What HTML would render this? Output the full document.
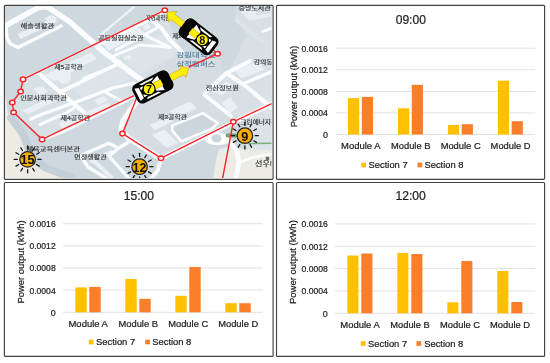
<!DOCTYPE html>
<html lang="ko"><head><meta charset="utf-8"><title>Power output by section</title>
<style>html,body{margin:0;padding:0;background:#fff}svg{display:block}</style></head>
<body>
<svg width="550" height="363" viewBox="0 0 550 363" font-family="Liberation Sans, Arial, sans-serif">
<rect width="550" height="363" fill="#fff"/>
<rect x="4.4" y="5.3" width="268.70000000000005" height="174.0" fill="#fff"/>
<clipPath id="mapclip"><rect x="5.0" y="5.8" width="266.5" height="172.1"/></clipPath>
<g clip-path="url(#mapclip)">
<rect x="4.4" y="5.3" width="268.70000000000005" height="174.0" fill="#CED9DF"/>
<polygon points="237.0,5.0 235.0,20.5 242.0,27.0 247.0,36.0 243.0,41.0 240.5,50.0 236.0,58.0 226.0,74.0 205.0,94.0 232.0,118.0 274.0,125.0 274.0,5.0" fill="#D8E0E5" />
<polygon points="4.0,92.0 6.5,104.0 9.0,120.0 20.6,135.0 25.5,148.0 30.5,161.5 45.4,171.3 70.0,180.0 4.0,180.0" fill="#EEEBE4" />
<polyline points="11.0,118.0 23.0,134.0 28.5,148.0 33.5,159.5 47.0,168.5 72.0,177.5" fill="none" stroke="#C3D0D8" stroke-width="7.67" stroke-linejoin="round" stroke-linecap="round" opacity="1"/>
<polygon points="219.0,149.0 232.0,146.0 244.0,149.0 275.0,149.5 275.0,180.0 213.0,180.0 216.0,160.0" fill="#EDEBE5" />
<polygon points="247.0,124.0 275.0,124.0 275.0,149.5 246.0,149.0" fill="#DCE3E7" />
<polygon points="23.0,79.4 164.8,10.2 172.0,30.0 184.0,52.0 141.0,79.0 136.0,95.5 42.0,139.4 13.6,112.2 12.3,102.5 20.6,91.5" fill="#D7E0E5" />
<polygon points="141.0,79.0 184.0,52.0 217.0,54.0 226.0,74.0 205.0,94.0 232.0,118.0 233.0,122.0 161.0,158.5 128.0,138.0 121.0,130.0 124.0,120.0 136.0,96.0" fill="#D5DDE3" />
<polygon points="17.5,34.0 54.0,17.2 57.0,21.8 20.5,39.0" fill="#E9EFF3" />
<polygon points="44.0,18.5 52.0,14.8 57.5,18.8 50.0,22.5" fill="#E9EFF3" />
<polygon points="43.2,75.5 71.3,62.3 79.6,68.1 54.8,81.3" fill="#E9EFF3" />
<polygon points="70.5,61.5 91.2,52.4 97.0,59.0 78.0,68.0" fill="#E9EFF3" />
<circle cx="64.5" cy="77.5" r="6.6" fill="#E9EFF3"/>
<polygon points="71.3,88.0 110.0,70.6 120.0,66.3 132.0,78.0 101.0,93.0 84.5,100.0" fill="#DCE4E9" />
<polygon points="21.8,110.4 51.1,97.6 54.9,101.4 28.2,114.2" fill="#E9EFF3" />
<polygon points="33.3,88.7 42.2,86.2 47.9,91.9 39.0,95.0" fill="#E9EFF3" />
<polygon points="59.0,123.0 108.6,102.6 111.5,107.0 62.0,128.0" fill="#E9EFF3" />
<polygon points="94.0,100.0 104.0,95.5 108.0,100.5 98.0,105.0" fill="#E9EFF3" />
<polygon points="102.4,43.7 138.2,26.9 144.7,32.7 108.5,50.5" fill="#E9EFF3" />
<polygon points="142.5,25.4 148.4,23.7 151.0,28.6 145.0,30.5" fill="#E9EFF3" />
<polygon points="119.0,53.5 163.0,34.0 178.0,53.0 140.0,74.0" fill="#DCE4E9" />
<polygon points="123.5,57.5 129.5,54.8 131.5,58.0 125.5,60.8" fill="#E9EFF3" />
<polygon points="169.8,110.7 189.7,101.6 197.1,108.2 177.3,118.2" fill="#E9EFF3" />
<polygon points="150.0,124.8 169.8,116.5 173.1,121.5 154.9,130.6" fill="#E9EFF3" />
<polygon points="151.6,134.7 164.8,129.8 178.1,143.0 166.5,148.0" fill="#E9EFF3" />
<polygon points="234.7,70.0 257.8,61.7 264.5,70.0 241.3,78.2" fill="#E9EFF3" />
<polygon points="213.0,91.5 226.4,81.5 234.7,86.5 221.4,95.6" fill="#E9EFF3" />
<polygon points="221.4,103.0 229.7,97.3 238.0,108.0 229.7,113.0" fill="#E9EFF3" />
<polygon points="239.4,10.4 254.6,7.8 256.0,15.5 271.0,13.0 271.0,16.7 249.5,20.5" fill="#E6ECEF" />
<polygon points="258.0,100.0 274.0,92.0 274.0,112.0 266.0,116.0" fill="#DCE4E9" />
<polygon points="89.0,159.5 112.0,149.5 114.0,153.0 91.0,163.0" fill="#E9EFF3" />
<polygon points="92.0,162.0 96.0,160.0 114.0,177.0 110.0,179.0" fill="#E9EFF3" />
<polygon points="172.3,125.6 202.9,113.2 217.8,123.1 212.8,128.1 181.4,141.4 172.3,130.6" fill="#CBD6DC" stroke="#FBFCFD" stroke-width="2.6" stroke-linejoin="round"/>
<polyline points="4.0,26.5 36.0,8.8 41.0,6.9 48.0,7.2 69.9,22.0 104.6,52.6 134.4,75.0 141.0,79.5" fill="none" stroke="#FBFCFD" stroke-width="5.43" stroke-linejoin="round" stroke-linecap="round" opacity="1"/>
<polyline points="5.7,25.5 7.0,38.0 10.0,43.5 18.0,47.5 61.0,26.0" fill="none" stroke="#FBFCFD" stroke-width="3.54" stroke-linejoin="round" stroke-linecap="round" opacity="1"/>
<polyline points="133.8,7.2 98.8,36.4" fill="none" stroke="#EEF2F5" stroke-width="2.36" stroke-linejoin="round" stroke-linecap="round" opacity="1"/>
<polyline points="84.0,78.2 117.1,65.0" fill="none" stroke="#FBFCFD" stroke-width="3.07" stroke-linejoin="round" stroke-linecap="round" opacity="1"/>
<polyline points="63.4,91.0 113.0,66.3 120.0,62.0" fill="none" stroke="#FBFCFD" stroke-width="3.3" stroke-linejoin="round" stroke-linecap="round" opacity="1"/>
<polyline points="39.8,74.4 72.6,102.8 84.0,112.3" fill="none" stroke="#FBFCFD" stroke-width="4.25" stroke-linejoin="round" stroke-linecap="round" opacity="1"/>
<polyline points="23.0,79.4 40.0,71.4 104.2,40.0 164.6,10.3" fill="none" stroke="#EDF1F4" stroke-width="2.6" stroke-linejoin="round" stroke-linecap="round" opacity="1"/>
<polyline points="31.0,119.0 40.0,115.0 76.5,101.9 113.0,88.0 134.0,83.0" fill="none" stroke="#FBFCFD" stroke-width="3.3" stroke-linejoin="round" stroke-linecap="round" opacity="1"/>
<polyline points="40.0,124.5 66.3,112.8 73.6,108.4" fill="none" stroke="#FBFCFD" stroke-width="3.07" stroke-linejoin="round" stroke-linecap="round" opacity="1"/>
<polyline points="62.4,90.4 84.0,80.2" fill="none" stroke="#FBFCFD" stroke-width="3.07" stroke-linejoin="round" stroke-linecap="round" opacity="1"/>
<polyline points="105.5,92.3 122.9,101.4" fill="none" stroke="#FBFCFD" stroke-width="3.07" stroke-linejoin="round" stroke-linecap="round" opacity="1"/>
<polyline points="42.1,139.4 62.0,131.8 120.0,103.3 136.0,95.5" fill="none" stroke="#FBFCFD" stroke-width="3.54" stroke-linejoin="round" stroke-linecap="round" opacity="1"/>
<polyline points="151.3,19.6 161.5,28.4 170.0,40.0 182.0,52.0" fill="none" stroke="#FBFCFD" stroke-width="4.01" stroke-linejoin="round" stroke-linecap="round" opacity="1"/>
<polyline points="100.0,44.0 150.0,20.0 164.0,11.0" fill="none" stroke="#FBFCFD" stroke-width="2.83" stroke-linejoin="round" stroke-linecap="round" opacity="1"/>
<polyline points="114.5,55.5 140.0,44.8 170.0,47.3" fill="none" stroke="#FBFCFD" stroke-width="2.83" stroke-linejoin="round" stroke-linecap="round" opacity="1"/>
<polyline points="116.0,50.0 156.4,28.4" fill="none" stroke="#FBFCFD" stroke-width="3.07" stroke-linejoin="round" stroke-linecap="round" opacity="1"/>
<polyline points="147.0,36.4 170.0,47.3" fill="none" stroke="#FBFCFD" stroke-width="3.07" stroke-linejoin="round" stroke-linecap="round" opacity="1"/>
<polyline points="140.0,97.0 131.0,109.0 123.0,121.0 121.0,130.0 128.6,138.2 161.0,158.5" fill="none" stroke="#FBFCFD" stroke-width="5.43" stroke-linejoin="round" stroke-linecap="round" opacity="1"/>
<polyline points="161.0,158.5 233.3,122.5 273.0,103.5" fill="none" stroke="#FBFCFD" stroke-width="4.48" stroke-linejoin="round" stroke-linecap="round" opacity="1"/>
<polyline points="161.0,158.5 158.0,170.0 150.0,180.0" fill="none" stroke="#FBFCFD" stroke-width="3.78" stroke-linejoin="round" stroke-linecap="round" opacity="1"/>
<polyline points="204.6,95.0 231.0,116.0" fill="none" stroke="#FBFCFD" stroke-width="4.01" stroke-linejoin="round" stroke-linecap="round" opacity="1"/>
<polyline points="204.9,93.1 226.4,73.2 250.0,61.0" fill="none" stroke="#FBFCFD" stroke-width="4.01" stroke-linejoin="round" stroke-linecap="round" opacity="1"/>
<polyline points="226.4,73.2 246.3,86.5 273.0,109.0" fill="none" stroke="#FBFCFD" stroke-width="4.25" stroke-linejoin="round" stroke-linecap="round" opacity="1"/>
<polyline points="244.6,83.2 273.0,71.0" fill="none" stroke="#FBFCFD" stroke-width="3.3" stroke-linejoin="round" stroke-linecap="round" opacity="1"/>
<polyline points="252.0,32.6 256.0,35.8" fill="none" stroke="#FBFCFD" stroke-width="2.6" stroke-linejoin="round" stroke-linecap="round" opacity="1"/>
<polyline points="262.9,31.4 272.0,28.0" fill="none" stroke="#FBFCFD" stroke-width="2.83" stroke-linejoin="round" stroke-linecap="round" opacity="1"/>
<polyline points="236.8,20.5 262.3,41.0" fill="none" stroke="#DDE5EA" stroke-width="3.54" stroke-linejoin="round" stroke-linecap="round" opacity="1"/>
<polyline points="80.6,155.6 108.7,143.2 118.6,148.1 130.0,141.0" fill="none" stroke="#FBFCFD" stroke-width="3.3" stroke-linejoin="round" stroke-linecap="round" opacity="1"/>
<polyline points="80.6,155.6 88.0,167.0 104.0,177.0 110.0,181.0" fill="none" stroke="#FBFCFD" stroke-width="3.3" stroke-linejoin="round" stroke-linecap="round" opacity="1"/>
<polyline points="118.6,148.1 109.0,156.0 130.0,180.0" fill="none" stroke="#FBFCFD" stroke-width="3.3" stroke-linejoin="round" stroke-linecap="round" opacity="1"/>
<ellipse cx="217.5" cy="139" rx="12.5" ry="6.2" fill="#FBFCFD"/>
<polyline points="228.0,140.0 236.5,150.0 239.0,162.0 235.5,181.0" fill="none" stroke="#FBFCFD" stroke-width="4.96" stroke-linejoin="round" stroke-linecap="round" opacity="1"/>
<polyline points="241.5,161.5 254.0,157.0 275.0,153.5" fill="none" stroke="#FBFCFD" stroke-width="2.6" stroke-linejoin="round" stroke-linecap="round" opacity="1"/>
<ellipse cx="216.5" cy="138.3" rx="5" ry="4" fill="#CBD6DC"/>
<polyline points="227.5,135.5 236.0,135.5" fill="none" stroke="#6FA56B" stroke-width="3.78" stroke-linejoin="round" stroke-linecap="round" opacity="1"/>
<polyline points="248.7,143.6 275.0,143.3" fill="none" stroke="#7DB07A" stroke-width="1.42" stroke-linejoin="round" stroke-linecap="round" opacity="1"/>
<text x="20.5" y="28.47" font-size="5.2" fill="#3c3c3c" stroke="#3c3c3c" stroke-width="0.18" font-weight="normal" textLength="33.8" lengthAdjust="spacingAndGlyphs" font-family="Liberation Sans, Noto Sans CJK KR, NanumGothic, sans-serif">해솔생활관</text>
<text x="98" y="39.87" font-size="5.2" fill="#3c3c3c" stroke="#3c3c3c" stroke-width="0.18" font-weight="normal" textLength="45.6" lengthAdjust="spacingAndGlyphs" font-family="Liberation Sans, Noto Sans CJK KR, NanumGothic, sans-serif">공동실험실습관</text>
<text x="146" y="20.47" font-size="5.2" fill="#3c3c3c" stroke="#3c3c3c" stroke-width="0.18" font-weight="normal" textLength="24.0" lengthAdjust="spacingAndGlyphs" font-family="Liberation Sans, Noto Sans CJK KR, NanumGothic, sans-serif">자연과학관</text>
<text x="54.5" y="68.87" font-size="5.2" fill="#3c3c3c" stroke="#3c3c3c" stroke-width="0.18" font-weight="normal" textLength="28.1" lengthAdjust="spacingAndGlyphs" font-family="Liberation Sans, Noto Sans CJK KR, NanumGothic, sans-serif">제5공학관</text>
<text x="20.2" y="100.17" font-size="5.2" fill="#3c3c3c" stroke="#3c3c3c" stroke-width="0.18" font-weight="normal" textLength="46.8" lengthAdjust="spacingAndGlyphs" font-family="Liberation Sans, Noto Sans CJK KR, NanumGothic, sans-serif">인문사회과학관</text>
<text x="60.4" y="119.77" font-size="5.2" fill="#3c3c3c" stroke="#3c3c3c" stroke-width="0.18" font-weight="normal" textLength="30.0" lengthAdjust="spacingAndGlyphs" font-family="Liberation Sans, Noto Sans CJK KR, NanumGothic, sans-serif">제4공학관</text>
<text x="26.4" y="151.07" font-size="5.2" fill="#3c3c3c" stroke="#3c3c3c" stroke-width="0.18" font-weight="normal" textLength="53.6" lengthAdjust="spacingAndGlyphs" font-family="Liberation Sans, Noto Sans CJK KR, NanumGothic, sans-serif">체육교육센터본관</text>
<text x="74.3" y="158.67" font-size="5.2" fill="#3c3c3c" stroke="#3c3c3c" stroke-width="0.18" font-weight="normal" textLength="32.4" lengthAdjust="spacingAndGlyphs" font-family="Liberation Sans, Noto Sans CJK KR, NanumGothic, sans-serif">연정생활관</text>
<text x="157.9" y="118.87" font-size="5.2" fill="#3c3c3c" stroke="#3c3c3c" stroke-width="0.18" font-weight="normal" textLength="29.3" lengthAdjust="spacingAndGlyphs" font-family="Liberation Sans, Noto Sans CJK KR, NanumGothic, sans-serif">제3공학관</text>
<text x="205.7" y="89.67" font-size="5.2" fill="#3c3c3c" stroke="#3c3c3c" stroke-width="0.18" font-weight="normal" textLength="33.1" lengthAdjust="spacingAndGlyphs" font-family="Liberation Sans, Noto Sans CJK KR, NanumGothic, sans-serif">전산정보원</text>
<text x="253.7" y="64.37" font-size="5.2" fill="#3c3c3c" stroke="#3c3c3c" stroke-width="0.18" font-weight="normal" textLength="19.3" lengthAdjust="spacingAndGlyphs" font-family="Liberation Sans, Noto Sans CJK KR, NanumGothic, sans-serif">강의동</text>
<text x="238.5" y="10.17" font-size="5.2" fill="#3c3c3c" stroke="#3c3c3c" stroke-width="0.18" font-weight="normal" textLength="32.3" lengthAdjust="spacingAndGlyphs" font-family="Liberation Sans, Noto Sans CJK KR, NanumGothic, sans-serif">중앙도서관</text>
<text x="240.5" y="123.67" font-size="5.2" fill="#3c3c3c" stroke="#3c3c3c" stroke-width="0.18" font-weight="normal" textLength="36.5" lengthAdjust="spacingAndGlyphs" font-family="Liberation Sans, Noto Sans CJK KR, NanumGothic, sans-serif">그린에너지관</text>
<text x="255" y="165.78" font-size="6.6" fill="#3c3c3c" stroke="#3c3c3c" stroke-width="0.18" font-weight="normal" textLength="17.0" lengthAdjust="spacingAndGlyphs" font-family="Liberation Sans, Noto Sans CJK KR, NanumGothic, sans-serif">선우!</text>
<rect x="265.8" y="156.8" width="3.4" height="3.4" fill="#6b6b6b"/>
<text x="176.5" y="57.23" font-size="6.2" fill="#5B84A6" stroke="#5B84A6" stroke-width="0.18" font-weight="normal" textLength="39.0" lengthAdjust="spacingAndGlyphs" font-family="Liberation Sans, Noto Sans CJK KR, NanumGothic, sans-serif">강원대학교</text>
<text x="176.5" y="66.03" font-size="6.2" fill="#5B84A6" stroke="#5B84A6" stroke-width="0.18" font-weight="normal" textLength="39.0" lengthAdjust="spacingAndGlyphs" font-family="Liberation Sans, Noto Sans CJK KR, NanumGothic, sans-serif">삼척캠퍼스</text>
<text x="172.5" y="38.32" font-size="5.6" fill="#3c3c3c" stroke="#3c3c3c" stroke-width="0.18" font-weight="normal" textLength="9.0" lengthAdjust="spacingAndGlyphs" font-family="Liberation Sans, Noto Sans CJK KR, NanumGothic, sans-serif">제1</text>
<polyline points="164.8,10.2 23.0,79.4 20.6,91.5 12.3,102.5 13.6,112.2 42.1,139.4 134.0,95.6" fill="none" stroke="#F5262B" stroke-width="1.4" stroke-linejoin="round"/>
<polyline points="137.0,97.0 122.5,133.6 161.0,158.2 233.3,121.8 273.0,103.0" fill="none" stroke="#F5262B" stroke-width="1.4" stroke-linejoin="round"/>
<polyline points="233.3,121.8 222.3,180.0" fill="none" stroke="#F5262B" stroke-width="1.4" stroke-linejoin="round"/>
<polyline points="188.7,67.2 217.6,53.7 210.0,47.0" fill="none" stroke="#F5262B" stroke-width="1.4" stroke-linejoin="round"/>
<ellipse cx="164.8" cy="10.2" rx="2.7" ry="2.3" fill="#fff" stroke="#F5262B" stroke-width="1.5"/>
<ellipse cx="23" cy="79.4" rx="2.7" ry="2.3" fill="#fff" stroke="#F5262B" stroke-width="1.5"/>
<ellipse cx="20.6" cy="91.5" rx="2.7" ry="2.3" fill="#fff" stroke="#F5262B" stroke-width="1.5"/>
<ellipse cx="12.3" cy="102.5" rx="2.7" ry="2.3" fill="#fff" stroke="#F5262B" stroke-width="1.5"/>
<ellipse cx="13.6" cy="112.2" rx="2.7" ry="2.3" fill="#fff" stroke="#F5262B" stroke-width="1.5"/>
<ellipse cx="42.1" cy="139.4" rx="2.7" ry="2.3" fill="#fff" stroke="#F5262B" stroke-width="1.5"/>
<ellipse cx="122.5" cy="133.6" rx="2.7" ry="2.3" fill="#fff" stroke="#F5262B" stroke-width="1.5"/>
<ellipse cx="161" cy="158.2" rx="2.7" ry="2.3" fill="#fff" stroke="#F5262B" stroke-width="1.5"/>
<ellipse cx="233.3" cy="121.8" rx="2.7" ry="2.3" fill="#fff" stroke="#F5262B" stroke-width="1.5"/>
<ellipse cx="217.6" cy="53.7" rx="2.7" ry="2.3" fill="#fff" stroke="#F5262B" stroke-width="1.5"/>
<g transform="translate(152.8,87) rotate(-27.3)"><rect x="-20.0" y="-10.5" width="40" height="21" rx="5.6" ry="5.6" fill="#050505"/><polygon points="-17.2,-6.9 -13.0,-5.7 -13.0,5.7 -17.2,6.9" fill="#fff"/><polygon points="-11.0,-8.5 5.0,-8.5 2.5,-6.6 -9.0,-6.6" fill="#fff"/><polygon points="-11.0,8.5 5.0,8.5 2.5,6.6 -9.0,6.6" fill="#fff"/><polygon points="1.5,-4.9 9.2,-8.1 9.2,8.1 1.5,4.9" fill="#fff"/><polygon points="-12.0,-5.3 -7.5,-4.9 -12.0,-2.2" fill="#fff"/><polygon points="-12.0,5.3 -7.5,4.9 -12.0,2.2" fill="#fff"/><polygon points="-4.2,-3.2 33.5,-3.2 33.5,-6.9 40.5,0 33.5,6.9 33.5,3.2 -4.2,3.2" fill="#FFF000" stroke="#C9A000" stroke-width="0.5"/><path d="M10.2,-10.5 L14.4,-10.5 A5.6,5.6 0 0 1 20.0,-4.9 L20.0,4.9 A5.6,5.6 0 0 1 14.4,10.5 L10.2,10.5 Z" fill="#050505"/></g><circle cx="149.07" cy="88.93" r="6.0" fill="#FFF200" stroke="#0a0a0a" stroke-width="1.2"/><text x="149.07" y="92.73" font-size="10.8" font-weight="bold" text-anchor="middle" fill="#111">7</text>
<g transform="translate(198.65,36.9) rotate(-142)"><rect x="-20.0" y="-10.5" width="40" height="21" rx="5.6" ry="5.6" fill="#050505"/><polygon points="-17.2,-6.9 -13.0,-5.7 -13.0,5.7 -17.2,6.9" fill="#fff"/><polygon points="-11.0,-8.5 5.0,-8.5 2.5,-6.6 -9.0,-6.6" fill="#fff"/><polygon points="-11.0,8.5 5.0,8.5 2.5,6.6 -9.0,6.6" fill="#fff"/><polygon points="1.5,-4.9 9.2,-8.1 9.2,8.1 1.5,4.9" fill="#fff"/><polygon points="-12.0,-5.3 -7.5,-4.9 -12.0,-2.2" fill="#fff"/><polygon points="-12.0,5.3 -7.5,4.9 -12.0,2.2" fill="#fff"/><polygon points="-4.7,-3.2 32.8,-3.2 32.8,-6.9 39.8,0 32.8,6.9 32.8,3.2 -4.7,3.2" fill="#FFF000" stroke="#C9A000" stroke-width="0.5"/><path d="M10.2,-10.5 L14.4,-10.5 A5.6,5.6 0 0 1 20.0,-4.9 L20.0,4.9 A5.6,5.6 0 0 1 14.4,10.5 L10.2,10.5 Z" fill="#050505"/></g><circle cx="202.35" cy="39.79" r="6.0" fill="#FFF200" stroke="#0a0a0a" stroke-width="1.2"/><text x="202.35" y="43.59" font-size="10.8" font-weight="bold" text-anchor="middle" fill="#111">8</text>
<g transform="translate(27.6,159.4)"><line x1="10.30" y1="0.00" x2="13.40" y2="0.00" stroke="#1a1a1a" stroke-width="1.3" stroke-linecap="round"/><line x1="8.92" y1="5.15" x2="11.60" y2="6.70" stroke="#1a1a1a" stroke-width="1.3" stroke-linecap="round"/><line x1="5.15" y1="8.92" x2="6.70" y2="11.60" stroke="#1a1a1a" stroke-width="1.3" stroke-linecap="round"/><line x1="0.00" y1="10.30" x2="0.00" y2="13.40" stroke="#1a1a1a" stroke-width="1.3" stroke-linecap="round"/><line x1="-5.15" y1="8.92" x2="-6.70" y2="11.60" stroke="#1a1a1a" stroke-width="1.3" stroke-linecap="round"/><line x1="-8.92" y1="5.15" x2="-11.60" y2="6.70" stroke="#1a1a1a" stroke-width="1.3" stroke-linecap="round"/><line x1="-10.30" y1="0.00" x2="-13.40" y2="0.00" stroke="#1a1a1a" stroke-width="1.3" stroke-linecap="round"/><line x1="-8.92" y1="-5.15" x2="-11.60" y2="-6.70" stroke="#1a1a1a" stroke-width="1.3" stroke-linecap="round"/><line x1="-5.15" y1="-8.92" x2="-6.70" y2="-11.60" stroke="#1a1a1a" stroke-width="1.3" stroke-linecap="round"/><line x1="-0.00" y1="-10.30" x2="-0.00" y2="-13.40" stroke="#1a1a1a" stroke-width="1.3" stroke-linecap="round"/><line x1="5.15" y1="-8.92" x2="6.70" y2="-11.60" stroke="#1a1a1a" stroke-width="1.3" stroke-linecap="round"/><line x1="8.92" y1="-5.15" x2="11.60" y2="-6.70" stroke="#1a1a1a" stroke-width="1.3" stroke-linecap="round"/><circle r="7.75" fill="#F8AE00" stroke="#262626" stroke-width="1.3"/><text x="-0.1" y="4.85" font-size="12.6" font-weight="bold" text-anchor="middle" fill="#0a0a0a" letter-spacing="-0.1">15</text></g>
<g transform="translate(139.6,166.7)"><line x1="10.30" y1="0.00" x2="13.40" y2="0.00" stroke="#1a1a1a" stroke-width="1.3" stroke-linecap="round"/><line x1="8.92" y1="5.15" x2="11.60" y2="6.70" stroke="#1a1a1a" stroke-width="1.3" stroke-linecap="round"/><line x1="5.15" y1="8.92" x2="6.70" y2="11.60" stroke="#1a1a1a" stroke-width="1.3" stroke-linecap="round"/><line x1="0.00" y1="10.30" x2="0.00" y2="13.40" stroke="#1a1a1a" stroke-width="1.3" stroke-linecap="round"/><line x1="-5.15" y1="8.92" x2="-6.70" y2="11.60" stroke="#1a1a1a" stroke-width="1.3" stroke-linecap="round"/><line x1="-8.92" y1="5.15" x2="-11.60" y2="6.70" stroke="#1a1a1a" stroke-width="1.3" stroke-linecap="round"/><line x1="-10.30" y1="0.00" x2="-13.40" y2="0.00" stroke="#1a1a1a" stroke-width="1.3" stroke-linecap="round"/><line x1="-8.92" y1="-5.15" x2="-11.60" y2="-6.70" stroke="#1a1a1a" stroke-width="1.3" stroke-linecap="round"/><line x1="-5.15" y1="-8.92" x2="-6.70" y2="-11.60" stroke="#1a1a1a" stroke-width="1.3" stroke-linecap="round"/><line x1="-0.00" y1="-10.30" x2="-0.00" y2="-13.40" stroke="#1a1a1a" stroke-width="1.3" stroke-linecap="round"/><line x1="5.15" y1="-8.92" x2="6.70" y2="-11.60" stroke="#1a1a1a" stroke-width="1.3" stroke-linecap="round"/><line x1="8.92" y1="-5.15" x2="11.60" y2="-6.70" stroke="#1a1a1a" stroke-width="1.3" stroke-linecap="round"/><circle r="7.75" fill="#F8AE00" stroke="#262626" stroke-width="1.3"/><text x="-0.1" y="4.85" font-size="12.6" font-weight="bold" text-anchor="middle" fill="#0a0a0a" letter-spacing="-0.1">12</text></g>
<g transform="translate(244.9,135.7)"><line x1="10.30" y1="0.00" x2="13.40" y2="0.00" stroke="#1a1a1a" stroke-width="1.3" stroke-linecap="round"/><line x1="8.92" y1="5.15" x2="11.60" y2="6.70" stroke="#1a1a1a" stroke-width="1.3" stroke-linecap="round"/><line x1="5.15" y1="8.92" x2="6.70" y2="11.60" stroke="#1a1a1a" stroke-width="1.3" stroke-linecap="round"/><line x1="0.00" y1="10.30" x2="0.00" y2="13.40" stroke="#1a1a1a" stroke-width="1.3" stroke-linecap="round"/><line x1="-5.15" y1="8.92" x2="-6.70" y2="11.60" stroke="#1a1a1a" stroke-width="1.3" stroke-linecap="round"/><line x1="-8.92" y1="5.15" x2="-11.60" y2="6.70" stroke="#1a1a1a" stroke-width="1.3" stroke-linecap="round"/><line x1="-10.30" y1="0.00" x2="-13.40" y2="0.00" stroke="#1a1a1a" stroke-width="1.3" stroke-linecap="round"/><line x1="-8.92" y1="-5.15" x2="-11.60" y2="-6.70" stroke="#1a1a1a" stroke-width="1.3" stroke-linecap="round"/><line x1="-5.15" y1="-8.92" x2="-6.70" y2="-11.60" stroke="#1a1a1a" stroke-width="1.3" stroke-linecap="round"/><line x1="-0.00" y1="-10.30" x2="-0.00" y2="-13.40" stroke="#1a1a1a" stroke-width="1.3" stroke-linecap="round"/><line x1="5.15" y1="-8.92" x2="6.70" y2="-11.60" stroke="#1a1a1a" stroke-width="1.3" stroke-linecap="round"/><line x1="8.92" y1="-5.15" x2="11.60" y2="-6.70" stroke="#1a1a1a" stroke-width="1.3" stroke-linecap="round"/><circle r="7.75" fill="#F8AE00" stroke="#262626" stroke-width="1.3"/><text x="-0.1" y="4.85" font-size="12.6" font-weight="bold" text-anchor="middle" fill="#0a0a0a" letter-spacing="-0.1">9</text></g>
</g>
<rect x="4.4" y="5.3" width="268.70000000000005" height="174.0" fill="none" stroke="#404040" stroke-width="1.15" rx="1"/>
<rect x="276.5" y="5.3" width="268.1" height="174.0" fill="#fff" stroke="#404040" stroke-width="1.15" rx="1"/>
<text x="410.8" y="23.65" font-size="12.1" text-anchor="middle" fill="#1f1f1f" stroke="#1f1f1f" stroke-width="0.22" >09:00</text>
<line x1="335.5" y1="48.20" x2="535.3" y2="48.20" stroke="#DDDDDD" stroke-width="0.9"/>
<text x="327.9" y="51.65" font-size="8.9" text-anchor="end" fill="#1c1c1c" stroke="#1c1c1c" stroke-width="0.22" textLength="26.3" lengthAdjust="spacingAndGlyphs" >0.0016</text>
<line x1="335.5" y1="69.78" x2="535.3" y2="69.78" stroke="#DDDDDD" stroke-width="0.9"/>
<text x="327.9" y="73.23" font-size="8.9" text-anchor="end" fill="#1c1c1c" stroke="#1c1c1c" stroke-width="0.22" textLength="26.3" lengthAdjust="spacingAndGlyphs" >0.0012</text>
<line x1="335.5" y1="91.35" x2="535.3" y2="91.35" stroke="#DDDDDD" stroke-width="0.9"/>
<text x="327.9" y="94.8" font-size="8.9" text-anchor="end" fill="#1c1c1c" stroke="#1c1c1c" stroke-width="0.22" textLength="26.3" lengthAdjust="spacingAndGlyphs" >0.0008</text>
<line x1="335.5" y1="112.92" x2="535.3" y2="112.92" stroke="#DDDDDD" stroke-width="0.9"/>
<text x="327.9" y="116.38" font-size="8.9" text-anchor="end" fill="#1c1c1c" stroke="#1c1c1c" stroke-width="0.22" textLength="26.3" lengthAdjust="spacingAndGlyphs" >0.0004</text>
<line x1="335.5" y1="134.50" x2="535.3" y2="134.50" stroke="#DDDDDD" stroke-width="0.9"/>
<text x="327.9" y="137.95" font-size="8.9" text-anchor="end" fill="#1c1c1c" stroke="#1c1c1c" stroke-width="0.22" >0</text>
<text transform="translate(297,86.5) rotate(-90)" font-size="9.3" text-anchor="middle" fill="#1c1c1c" stroke="#1c1c1c" stroke-width="0.22" textLength="81.4" lengthAdjust="spacingAndGlyphs">Power output (kWh)</text>
<rect x="348.00" y="98.1" width="11.2" height="36.40" fill="#FFC000"/>
<rect x="361.80" y="96.9" width="11.2" height="37.60" fill="#FB7F2A"/>
<rect x="397.95" y="108.3" width="11.2" height="26.20" fill="#FFC000"/>
<rect x="411.75" y="84.8" width="11.2" height="49.70" fill="#FB7F2A"/>
<rect x="447.90" y="125" width="11.2" height="9.50" fill="#FFC000"/>
<rect x="461.70" y="124.2" width="11.2" height="10.30" fill="#FB7F2A"/>
<rect x="497.85" y="80.7" width="11.2" height="53.80" fill="#FFC000"/>
<rect x="511.65" y="121.2" width="11.2" height="13.30" fill="#FB7F2A"/>
<text x="360.75" y="149.35" font-size="9.4" text-anchor="middle" fill="#1c1c1c" stroke="#1c1c1c" stroke-width="0.22" textLength="39.4" lengthAdjust="spacingAndGlyphs" >Module A</text>
<text x="410.7" y="149.35" font-size="9.4" text-anchor="middle" fill="#1c1c1c" stroke="#1c1c1c" stroke-width="0.22" textLength="39.4" lengthAdjust="spacingAndGlyphs" >Module B</text>
<text x="460.65" y="149.35" font-size="9.4" text-anchor="middle" fill="#1c1c1c" stroke="#1c1c1c" stroke-width="0.22" textLength="40.0" lengthAdjust="spacingAndGlyphs" >Module C</text>
<text x="510.6" y="149.35" font-size="9.4" text-anchor="middle" fill="#1c1c1c" stroke="#1c1c1c" stroke-width="0.22" textLength="40.0" lengthAdjust="spacingAndGlyphs" >Module D</text>
<rect x="361.3" y="162.65" width="4.7" height="4.7" fill="#FFC000"/>
<text x="368.6" y="168.2" font-size="9.4" text-anchor="start" fill="#1c1c1c" stroke="#1c1c1c" stroke-width="0.22" textLength="39" lengthAdjust="spacingAndGlyphs" >Section 7</text>
<rect x="417.5" y="162.65" width="4.7" height="4.7" fill="#FB7F2A"/>
<text x="424.5" y="168.2" font-size="9.4" text-anchor="start" fill="#1c1c1c" stroke="#1c1c1c" stroke-width="0.22" textLength="39" lengthAdjust="spacingAndGlyphs" >Section 8</text>
<rect x="4.4" y="182.5" width="268.70000000000005" height="173.89999999999998" fill="#fff" stroke="#404040" stroke-width="1.15" rx="1"/>
<text x="138.85" y="199.65" font-size="12.1" text-anchor="middle" fill="#1f1f1f" stroke="#1f1f1f" stroke-width="0.22" >15:00</text>
<line x1="63.2" y1="223.70" x2="263" y2="223.70" stroke="#DDDDDD" stroke-width="0.9"/>
<text x="55.7" y="227.15" font-size="8.9" text-anchor="end" fill="#1c1c1c" stroke="#1c1c1c" stroke-width="0.22" textLength="26.3" lengthAdjust="spacingAndGlyphs" >0.0016</text>
<line x1="63.2" y1="245.85" x2="263" y2="245.85" stroke="#DDDDDD" stroke-width="0.9"/>
<text x="55.7" y="249.3" font-size="8.9" text-anchor="end" fill="#1c1c1c" stroke="#1c1c1c" stroke-width="0.22" textLength="26.3" lengthAdjust="spacingAndGlyphs" >0.0012</text>
<line x1="63.2" y1="268.00" x2="263" y2="268.00" stroke="#DDDDDD" stroke-width="0.9"/>
<text x="55.7" y="271.45" font-size="8.9" text-anchor="end" fill="#1c1c1c" stroke="#1c1c1c" stroke-width="0.22" textLength="26.3" lengthAdjust="spacingAndGlyphs" >0.0008</text>
<line x1="63.2" y1="290.15" x2="263" y2="290.15" stroke="#DDDDDD" stroke-width="0.9"/>
<text x="55.7" y="293.6" font-size="8.9" text-anchor="end" fill="#1c1c1c" stroke="#1c1c1c" stroke-width="0.22" textLength="26.3" lengthAdjust="spacingAndGlyphs" >0.0004</text>
<line x1="63.2" y1="312.30" x2="263" y2="312.30" stroke="#DDDDDD" stroke-width="0.9"/>
<text x="55.7" y="315.75" font-size="8.9" text-anchor="end" fill="#1c1c1c" stroke="#1c1c1c" stroke-width="0.22" >0</text>
<text transform="translate(24,261.9) rotate(-90)" font-size="9.3" text-anchor="middle" fill="#1c1c1c" stroke="#1c1c1c" stroke-width="0.22" textLength="83.3" lengthAdjust="spacingAndGlyphs">Power output (kWh)</text>
<rect x="75.30" y="287.4" width="11.4" height="24.90" fill="#FFC000"/>
<rect x="89.30" y="286.9" width="11.4" height="25.40" fill="#FB7F2A"/>
<rect x="125.30" y="279" width="11.4" height="33.30" fill="#FFC000"/>
<rect x="139.30" y="298.8" width="11.4" height="13.50" fill="#FB7F2A"/>
<rect x="175.30" y="295.8" width="11.4" height="16.50" fill="#FFC000"/>
<rect x="189.30" y="267" width="11.4" height="45.30" fill="#FB7F2A"/>
<rect x="225.30" y="303.2" width="11.4" height="9.10" fill="#FFC000"/>
<rect x="239.30" y="303.2" width="11.4" height="9.10" fill="#FB7F2A"/>
<text x="88.2" y="326.85" font-size="9.4" text-anchor="middle" fill="#1c1c1c" stroke="#1c1c1c" stroke-width="0.22" textLength="39.4" lengthAdjust="spacingAndGlyphs" >Module A</text>
<text x="138.2" y="326.85" font-size="9.4" text-anchor="middle" fill="#1c1c1c" stroke="#1c1c1c" stroke-width="0.22" textLength="39.4" lengthAdjust="spacingAndGlyphs" >Module B</text>
<text x="188.2" y="326.85" font-size="9.4" text-anchor="middle" fill="#1c1c1c" stroke="#1c1c1c" stroke-width="0.22" textLength="40.0" lengthAdjust="spacingAndGlyphs" >Module C</text>
<text x="238.2" y="326.85" font-size="9.4" text-anchor="middle" fill="#1c1c1c" stroke="#1c1c1c" stroke-width="0.22" textLength="40.0" lengthAdjust="spacingAndGlyphs" >Module D</text>
<rect x="88.8" y="339.65" width="4.7" height="4.7" fill="#FFC000"/>
<text x="96.1" y="345.2" font-size="9.4" text-anchor="start" fill="#1c1c1c" stroke="#1c1c1c" stroke-width="0.22" textLength="39" lengthAdjust="spacingAndGlyphs" >Section 7</text>
<rect x="145.2" y="339.65" width="4.7" height="4.7" fill="#FB7F2A"/>
<text x="152.3" y="345.2" font-size="9.4" text-anchor="start" fill="#1c1c1c" stroke="#1c1c1c" stroke-width="0.22" textLength="39" lengthAdjust="spacingAndGlyphs" >Section 8</text>
<rect x="276.5" y="182.5" width="268.1" height="173.89999999999998" fill="#fff" stroke="#404040" stroke-width="1.15" rx="1"/>
<text x="410.7" y="199.65" font-size="12.1" text-anchor="middle" fill="#1f1f1f" stroke="#1f1f1f" stroke-width="0.22" >12:00</text>
<line x1="335" y1="223.90" x2="535.2" y2="223.90" stroke="#DDDDDD" stroke-width="0.9"/>
<text x="327.8" y="227.35" font-size="8.9" text-anchor="end" fill="#1c1c1c" stroke="#1c1c1c" stroke-width="0.22" textLength="26.3" lengthAdjust="spacingAndGlyphs" >0.0016</text>
<line x1="335" y1="246.25" x2="535.2" y2="246.25" stroke="#DDDDDD" stroke-width="0.9"/>
<text x="327.8" y="249.7" font-size="8.9" text-anchor="end" fill="#1c1c1c" stroke="#1c1c1c" stroke-width="0.22" textLength="26.3" lengthAdjust="spacingAndGlyphs" >0.0012</text>
<line x1="335" y1="268.60" x2="535.2" y2="268.60" stroke="#DDDDDD" stroke-width="0.9"/>
<text x="327.8" y="272.05" font-size="8.9" text-anchor="end" fill="#1c1c1c" stroke="#1c1c1c" stroke-width="0.22" textLength="26.3" lengthAdjust="spacingAndGlyphs" >0.0008</text>
<line x1="335" y1="290.95" x2="535.2" y2="290.95" stroke="#DDDDDD" stroke-width="0.9"/>
<text x="327.8" y="294.4" font-size="8.9" text-anchor="end" fill="#1c1c1c" stroke="#1c1c1c" stroke-width="0.22" textLength="26.3" lengthAdjust="spacingAndGlyphs" >0.0004</text>
<line x1="335" y1="313.30" x2="535.2" y2="313.30" stroke="#DDDDDD" stroke-width="0.9"/>
<text x="327.8" y="316.75" font-size="8.9" text-anchor="end" fill="#1c1c1c" stroke="#1c1c1c" stroke-width="0.22" >0</text>
<text transform="translate(296,262.1) rotate(-90)" font-size="9.3" text-anchor="middle" fill="#1c1c1c" stroke="#1c1c1c" stroke-width="0.22" textLength="83.8" lengthAdjust="spacingAndGlyphs">Power output (kWh)</text>
<rect x="347.30" y="255.5" width="11.1" height="57.80" fill="#FFC000"/>
<rect x="361.30" y="253.5" width="11.1" height="59.80" fill="#FB7F2A"/>
<rect x="397.30" y="253" width="11.1" height="60.30" fill="#FFC000"/>
<rect x="411.30" y="254" width="11.1" height="59.30" fill="#FB7F2A"/>
<rect x="447.30" y="302.3" width="11.1" height="11.00" fill="#FFC000"/>
<rect x="461.30" y="261" width="11.1" height="52.30" fill="#FB7F2A"/>
<rect x="497.30" y="271" width="11.1" height="42.30" fill="#FFC000"/>
<rect x="511.30" y="302" width="11.1" height="11.30" fill="#FB7F2A"/>
<text x="360.0" y="328.35" font-size="9.4" text-anchor="middle" fill="#1c1c1c" stroke="#1c1c1c" stroke-width="0.22" textLength="39.4" lengthAdjust="spacingAndGlyphs" >Module A</text>
<text x="410.0" y="328.35" font-size="9.4" text-anchor="middle" fill="#1c1c1c" stroke="#1c1c1c" stroke-width="0.22" textLength="39.4" lengthAdjust="spacingAndGlyphs" >Module B</text>
<text x="460.0" y="328.35" font-size="9.4" text-anchor="middle" fill="#1c1c1c" stroke="#1c1c1c" stroke-width="0.22" textLength="40.0" lengthAdjust="spacingAndGlyphs" >Module C</text>
<text x="510.0" y="328.35" font-size="9.4" text-anchor="middle" fill="#1c1c1c" stroke="#1c1c1c" stroke-width="0.22" textLength="40.0" lengthAdjust="spacingAndGlyphs" >Module D</text>
<rect x="360.8" y="341.15" width="4.7" height="4.7" fill="#FFC000"/>
<text x="368.1" y="346.7" font-size="9.4" text-anchor="start" fill="#1c1c1c" stroke="#1c1c1c" stroke-width="0.22" textLength="39" lengthAdjust="spacingAndGlyphs" >Section 7</text>
<rect x="416.5" y="341.15" width="4.7" height="4.7" fill="#FB7F2A"/>
<text x="424.2" y="346.7" font-size="9.4" text-anchor="start" fill="#1c1c1c" stroke="#1c1c1c" stroke-width="0.22" textLength="39" lengthAdjust="spacingAndGlyphs" >Section 8</text>
</svg>
</body></html>
